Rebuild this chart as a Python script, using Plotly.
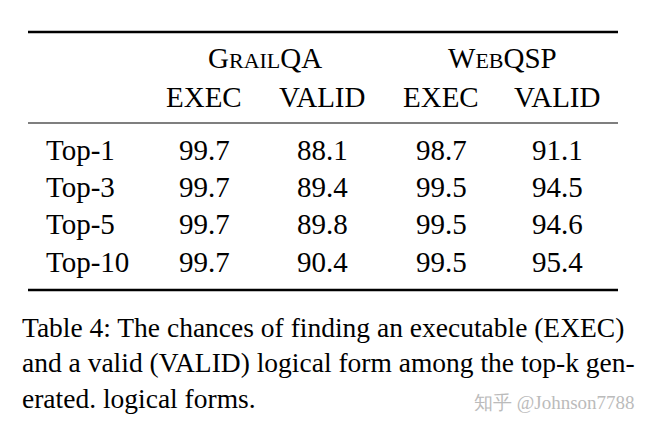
import plotly.graph_objects as go

W, H = 651, 429
row_labels = ["Top-1", "Top-3", "Top-5", "Top-10"]
grail_exec = ["99.7", "99.7", "99.7", "99.7"]
grail_valid = ["88.1", "89.4", "89.8", "90.4"]
web_exec = ["98.7", "99.5", "99.5", "99.5"]
web_valid = ["91.1", "94.5", "94.6", "95.4"]
sub_headers = ["EXEC", "VALID", "EXEC", "VALID"]
caption = ["Table 4: The chances of finding an executable (EXEC)",
           "and a valid (VALID) logical form among the top-k gen-",
           "erated. logical forms."]

FONT = "Liberation Serif"
OFF = 8
fig = go.Figure()
fig.update_layout(width=W, height=H, margin=dict(l=0, r=0, t=0, b=0),
                  paper_bgcolor="white", plot_bgcolor="white",
                  xaxis=dict(visible=False, range=[OFF, W + OFF]),
                  yaxis=dict(visible=False, range=[H + OFF, OFF]))

def txt(x, y, s, size=29, anchor="center", color="black"):
    fig.add_annotation(x=x, y=y, xref="x", yref="y", text=s, showarrow=False,
                       xanchor=anchor, yanchor="middle",
                       font=dict(family=FONT, size=size, color=color))

sc = "font-size:22px"
txt(265, 58, f"G<span style='{sc}'>RAIL</span>QA")
txt(502, 58, f"W<span style='{sc}'>EB</span>QSP")
for x, s in zip([204, 322, 441, 557], sub_headers):
    txt(x, 97, s)
cols = [grail_exec, grail_valid, web_exec, web_valid]
ys = [150, 187, 224, 262]
for i, lab in enumerate(row_labels):
    txt(44, ys[i], lab, anchor="left")
    for x, c in zip([204, 322, 441, 557], cols):
        txt(x, ys[i], c[i])

for y, w in [(32, 2.5), (123, 1.2), (290, 2.5)]:
    fig.add_shape(type="line", x0=28, x1=618, y0=y, y1=y, xref="x", yref="y",
                  line=dict(color="black", width=w))

for y, s in zip([327, 362, 398], caption):
    txt(20, y, s, size=27.5, anchor="left")
txt(637, 402, "知乎 @Johnson7788", size=19, anchor="right", color="#bbbbbb")

fig.write_html("out.html")
